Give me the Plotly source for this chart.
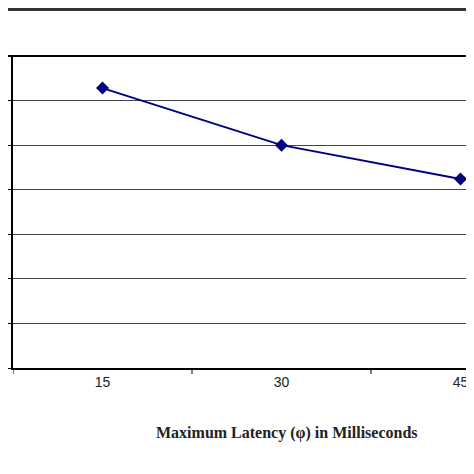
import plotly.graph_objects as go

categories = ["15", "30", "45"]
values = [6.28, 5.0, 4.24]

xs = list(range(len(categories)))
fig = go.Figure(go.Scatter(x=xs, y=values, mode="lines+markers", cliponaxis=False,
    line=dict(color="#000080", width=2),
    marker=dict(symbol="diamond", size=10, color="#000080")))

H = 312.0
fig.update_layout(
    width=474, height=474, margin=dict(l=5, r=0, t=48, b=114),
    plot_bgcolor="white", paper_bgcolor="white", showlegend=False,
    xaxis=dict(range=[-0.5, 2.12], tickvals=xs, ticktext=categories,
               showgrid=False, ticks="", showline=True, linecolor="black", linewidth=2,
               tickfont=dict(family="Liberation Sans", size=14, color="#222"), zeroline=False),
    yaxis=dict(range=[0, 7], dtick=1, showticklabels=False, ticks="outside", ticklen=5,
               tickcolor="black", showgrid=True, gridcolor="#444", gridwidth=1,
               showline=True, linecolor="black", linewidth=2, zeroline=False),
    annotations=[dict(text="<b>Maximum Latency (φ) in Milliseconds</b>", xref="paper", yref="paper",
                      x=0.585, y=(360-436)/H, showarrow=False,
                      font=dict(family="Liberation Serif", size=16, color="#222"))],
)
for t in [-0.5, 0.5, 1.5]:
    fig.add_shape(type="line", xref="x", yref="paper", x0=t, x1=t, y0=0, y1=-6/H,
                  line=dict(color="black", width=1))
fig.add_shape(type="line", xref="paper", yref="paper", x0=-0.02, x1=1.01, y0=1, y1=1,
              line=dict(color="black", width=2))
fig.add_shape(type="line", xref="paper", yref="paper", x0=-0.02, x1=1.01, y0=(360-1)/H, y1=(360-1)/H,
              line=dict(color="#333", width=4))
fig.add_shape(type="line", xref="paper", yref="paper", x0=-0.02, x1=1.01, y0=(360-472.5)/H, y1=(360-472.5)/H,
              line=dict(color="#aaa", width=4))
fig.write_html("out.html")
